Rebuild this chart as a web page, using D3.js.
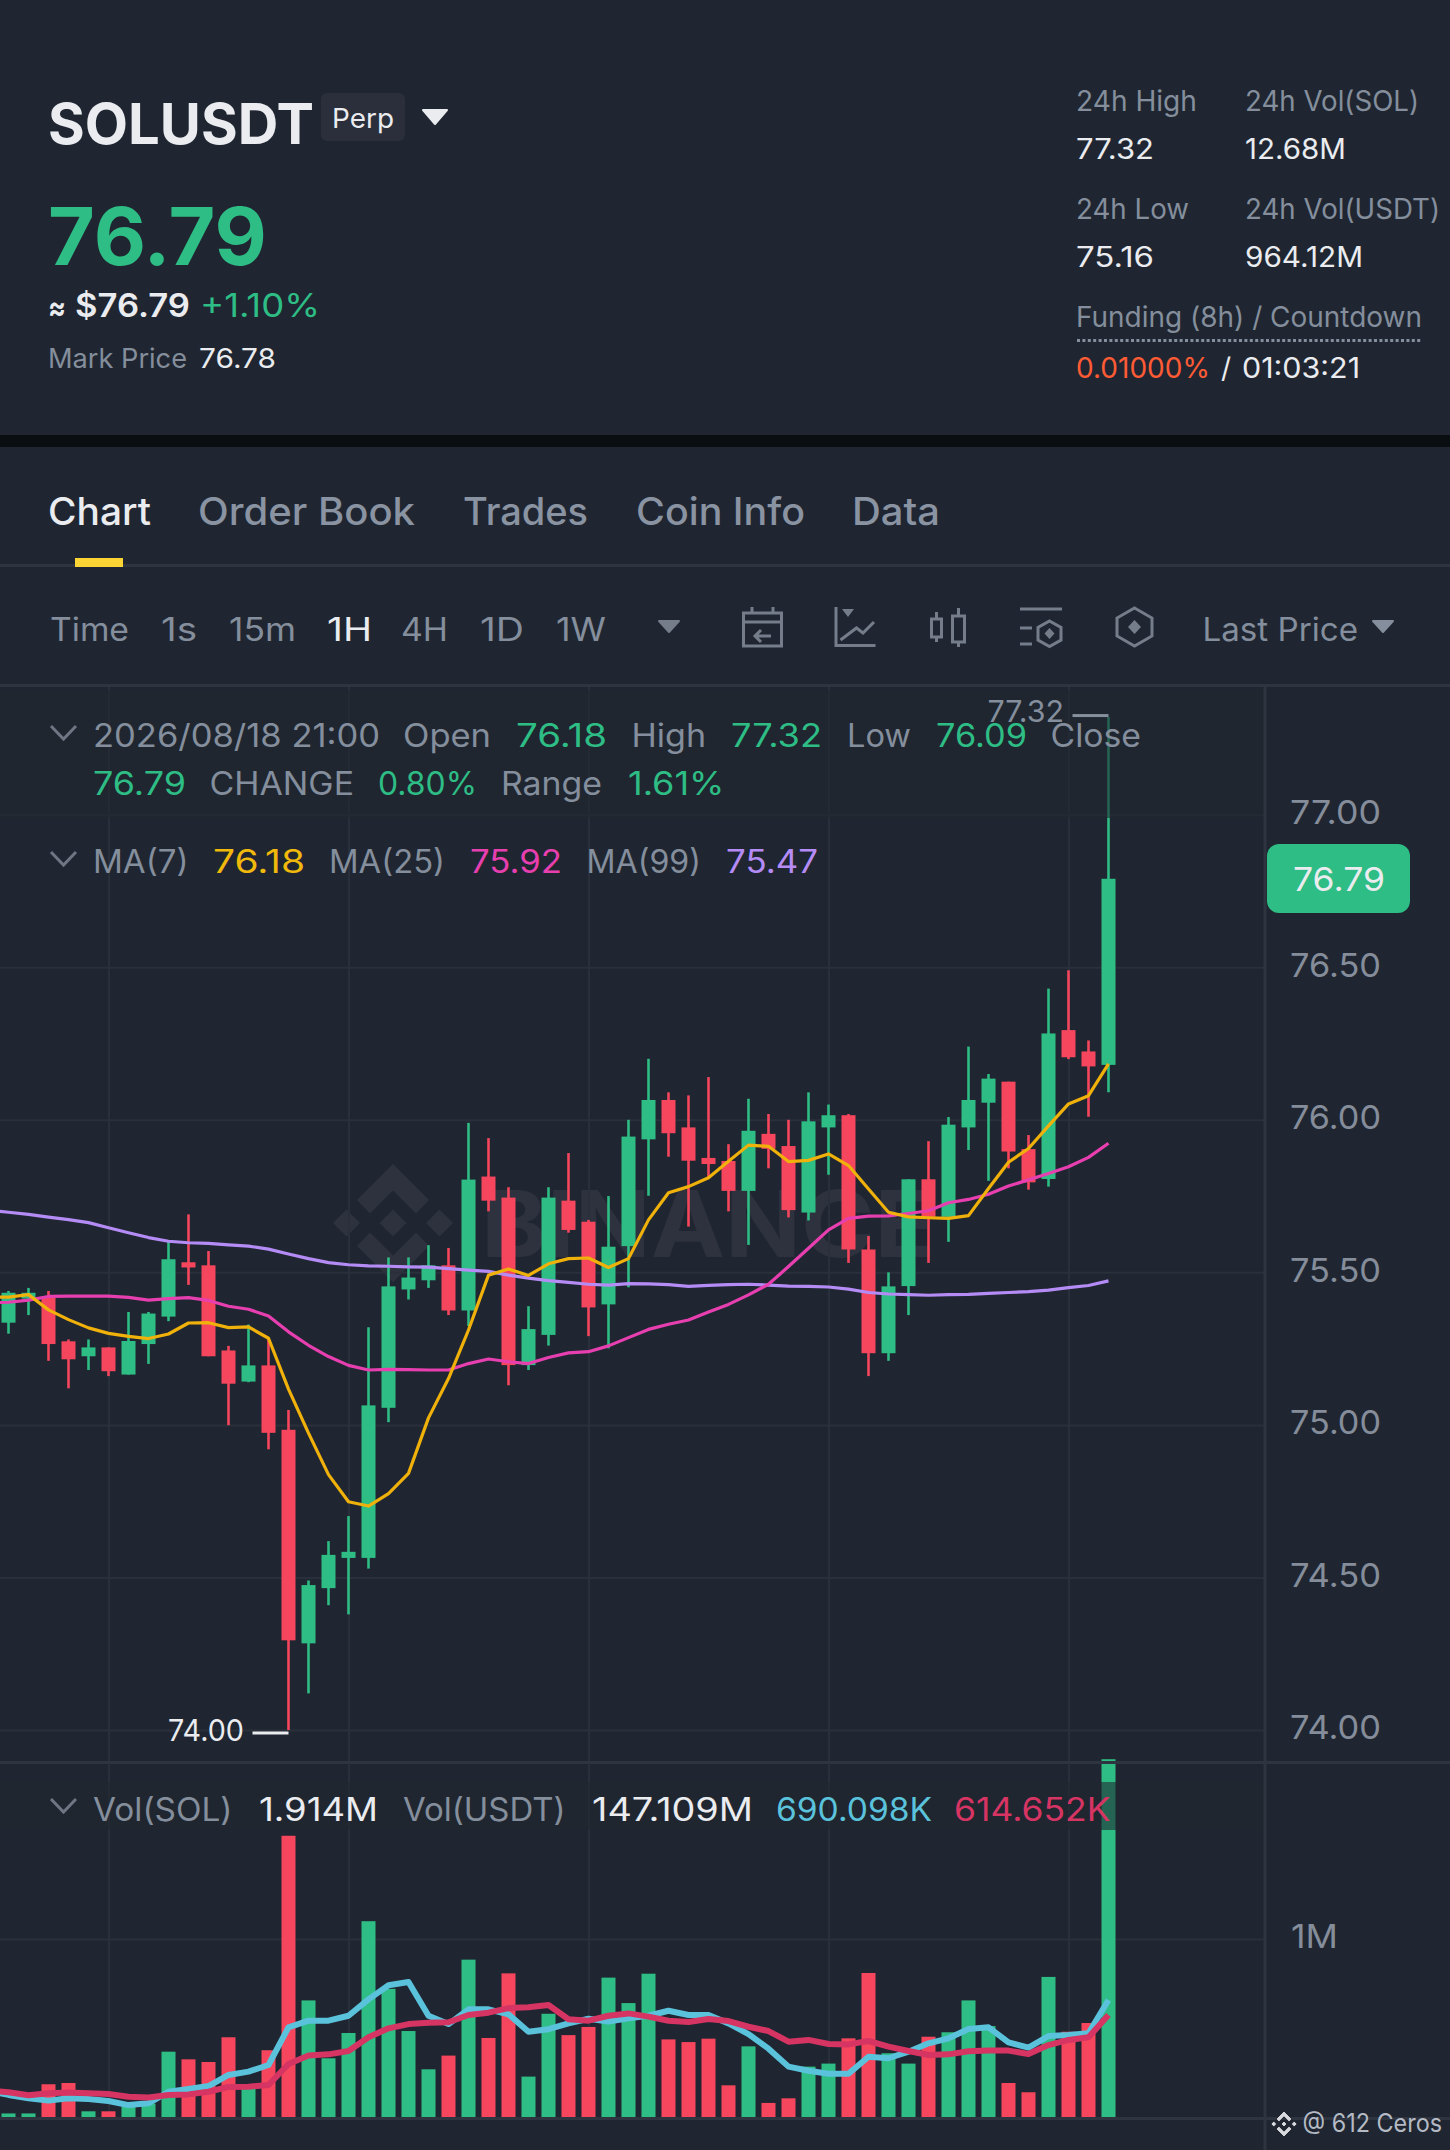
<!DOCTYPE html>
<html>
<head>
<meta charset="utf-8">
<title>SOLUSDT Perp</title>
<script src="https://cdn.jsdelivr.net/npm/d3@7"></script>
<style>
  html, body { margin: 0; padding: 0; background: #1f2631; }
  svg { display: block; }
  text { font-family: Inter, "Noto Sans", sans-serif; }
</style>
</head>
<body>
<div id="chart"></div>
<script>
// candles, left to right, 1H
var opens = [75.335,75.414,75.418,75.274,75.225,75.254,75.165,75.265,75.355,75.533,75.523,75.244,75.142,75.195,74.984,74.284,74.465,74.564,74.564,75.056,75.444,75.474,75.523,75.375,75.814,75.745,75.196,75.295,75.735,75.666,75.395,75.586,75.936,76.065,75.975,75.875,75.865,75.767,75.954,75.914,75.696,75.975,76.015,75.575,75.235,75.455,75.805,75.682,75.975,76.056,76.125,75.904,75.806,76.294,76.224,76.18];
var highs = [75.439,75.449,75.439,75.28,75.28,75.254,75.37,75.37,75.602,75.69,75.57,75.259,75.329,75.286,75.049,74.49,74.619,74.701,75.32,75.549,75.549,75.589,75.58,75.99,75.94,75.779,75.389,75.779,75.891,75.672,75.75,76,76.2,76.09,76.08,76.14,75.92,76.069,76.019,76,76.09,76.05,76.019,75.619,75.5,75.805,75.93,76.009,76.24,76.15,76.125,75.95,76.43,76.49,76.26,77.32];
var lows = [75.299,75.36,75.21,75.12,75.18,75.16,75.165,75.2,75.34,75.459,75.225,74.999,75.14,74.92,74,74.12,74.409,74.379,74.529,75.009,75.411,75.449,75.36,75.324,75.7,75.13,75.18,75.26,75.63,75.291,75.251,75.451,75.751,75.879,75.65,75.808,75.7,75.59,75.841,75.68,75.67,75.82,75.531,75.16,75.21,75.36,75.531,75.6,75.901,75.8,75.841,75.771,75.781,76.199,76.01,76.09];
var closes = [75.433,75.433,75.265,75.215,75.254,75.176,75.275,75.365,75.543,75.516,75.225,75.135,75.195,74.974,74.294,74.475,74.574,74.584,75.064,75.454,75.483,75.523,75.375,75.804,75.735,75.196,75.314,75.745,75.639,75.385,75.584,75.945,76.065,75.956,75.866,75.855,75.767,75.964,75.905,75.704,75.995,76.015,75.575,75.235,75.454,75.805,75.682,75.984,76.065,76.135,75.896,75.795,76.283,76.205,76.175,76.79];

var volumes = [0.02,0.02,0.184,0.191,0.032,0.032,0.06,0.075,0.367,0.324,0.309,0.448,0.17,0.375,1.58,0.655,0.33,0.472,1.1,0.72,0.483,0.268,0.345,0.884,0.444,0.807,0.227,0.58,0.46,0.506,0.783,0.64,0.805,0.436,0.421,0.44,0.178,0.397,0.079,0.105,0.283,0.3,0.442,0.809,0.358,0.3,0.451,0.476,0.655,0.511,0.191,0.139,0.787,0.479,0.528,2.01];

// the moving averages start one candle left of the picture, so they run off the edge
var ma7 = [75.419,75.419,75.427,75.377,75.345,75.318,75.3,75.29,75.283,75.298,75.334,75.335,75.319,75.321,75.284,75.117,74.973,74.837,74.748,74.734,74.775,74.841,75.023,75.152,75.311,75.491,75.511,75.49,75.528,75.545,75.547,75.516,75.545,75.672,75.761,75.781,75.81,75.864,75.917,75.913,75.863,75.867,75.888,75.85,75.773,75.697,75.682,75.679,75.677,75.686,75.775,75.861,75.906,75.98,76.052,76.079,76.183];
var ma25 = [75.4,75.402,75.409,75.421,75.422,75.422,75.422,75.418,75.409,75.414,75.417,75.408,75.389,75.379,75.357,75.305,75.261,75.224,75.195,75.18,75.182,75.181,75.18,75.18,75.201,75.216,75.207,75.201,75.221,75.236,75.24,75.259,75.286,75.313,75.33,75.344,75.37,75.395,75.426,75.461,75.519,75.579,75.639,75.677,75.684,75.685,75.693,75.702,75.728,75.739,75.756,75.783,75.803,75.824,75.846,75.877,75.923];
var ma99 = [75.703,75.697,75.69,75.681,75.673,75.663,75.646,75.63,75.614,75.602,75.597,75.595,75.59,75.586,75.576,75.56,75.545,75.532,75.525,75.521,75.52,75.518,75.517,75.512,75.507,75.503,75.491,75.481,75.473,75.467,75.461,75.458,75.463,75.462,75.46,75.454,75.457,75.46,75.461,75.458,75.455,75.454,75.452,75.445,75.434,75.429,75.427,75.425,75.427,75.428,75.431,75.434,75.437,75.442,75.45,75.457,75.472];
var volMa5 = [0.148,0.124,0.105,0.092,0.105,0.101,0.09,0.067,0.077,0.142,0.157,0.174,0.236,0.255,0.292,0.504,0.541,0.541,0.569,0.661,0.74,0.758,0.569,0.522,0.605,0.605,0.577,0.479,0.493,0.526,0.552,0.536,0.554,0.569,0.597,0.573,0.573,0.526,0.466,0.384,0.283,0.26,0.243,0.243,0.339,0.33,0.367,0.414,0.442,0.494,0.504,0.419,0.39,0.455,0.461,0.47,0.657];
var volMa10 = [0.15,0.139,0.122,0.133,0.137,0.133,0.129,0.114,0.109,0.124,0.127,0.142,0.169,0.17,0.18,0.298,0.345,0.352,0.371,0.448,0.498,0.522,0.53,0.532,0.573,0.586,0.612,0.616,0.629,0.549,0.541,0.569,0.582,0.564,0.541,0.534,0.551,0.539,0.507,0.483,0.423,0.433,0.41,0.408,0.427,0.395,0.371,0.348,0.352,0.369,0.373,0.373,0.354,0.404,0.433,0.448,0.573];

var priceTicks = [74, 74.5, 75, 75.5, 76, 76.5, 77];
var volTicks = [1];
var timeGridCandles = [5, 17, 29, 41, 53];

var bg = "#1f2631", green = "#2ebd85", red = "#f6465d", grey = "#848e9c", white = "#eaecef";
var lineCol = "#2e3440", gridCol = "#2a303b", iconCol = "#757d8b";

var svg = d3.select("#chart").append("svg")
    .attr("width", 1450)
    .attr("height", 2150);

svg.append("rect").attr("width", 1450).attr("height", 2150).attr("fill", bg);

// scales
var xScale = d3.scaleLinear().domain([0, 55]).range([8.5, 1108.5]);
var yScale = d3.scaleLinear().domain([74, 77]).range([1730, 814.7]);
var volScale = d3.scaleLinear().domain([0, 1]).range([2117, 1939]);

var candles = closes.map(function(c, i) {
    return {i: i, o: opens[i], h: highs[i], l: lows[i], c: c, v: volumes[i]};
});

function txt(str, x, y, size, fill, width, weight, parent) {
    var t = (parent || svg).append("text")
        .attr("x", x - 1)
        .attr("y", y)
        .attr("font-size", size)
        .attr("font-weight", weight || 400)
        .attr("fill", fill)
        .text(str);
    if (width) {
        t.attr("textLength", width + 2).attr("lengthAdjust", "spacingAndGlyphs");
    }
    return t;
}

function tri(x0, x1, y0, y1, fill) {
    svg.append("path")
        .attr("d", `M${x0 + 1},${y0 + 1}H${x1 - 1}L${(x0 + x1) / 2},${y1 - 1}Z`)
        .attr("fill", fill)
        .attr("stroke", fill)
        .attr("stroke-width", 2)
        .attr("stroke-linejoin", "round");
}

function chevron(y) {
    svg.append("path")
        .attr("d", `M51,${y}L63.5,${y + 13}L76,${y}`)
        .attr("fill", "none")
        .attr("stroke", "#6e7583")
        .attr("stroke-width", 3);
}

// ---------- header ----------
txt("SOLUSDT", 49, 144, 56, white, 264, 700);
svg.append("rect").attr("x", 321).attr("y", 93).attr("width", 84).attr("height", 48).attr("rx", 6).attr("fill", "#2a2f3b");
txt("Perp", 333, 128, 27, white, 60);
tri(422, 448, 109, 125, white);

txt("76.79", 49, 265, 80, green, 217, 700);
txt("≈", 49, 318, 30, white, 16, 700);
txt("$76.79", 76, 317, 33, white, 113, 600);
txt("+1.10%", 201, 317, 33, green, 118);
txt("Mark Price", 49, 368, 27, grey, 137);
txt("76.78", 200, 368, 27, white, 75);

txt("24h High", 1077, 111, 28, grey, 119);
txt("24h Vol(SOL)", 1246, 111, 28, grey, 172);
txt("77.32", 1077, 159, 28, white, 76);
txt("12.68M", 1246, 159, 28, white, 99);
txt("24h Low", 1077, 219, 28, grey, 111);
txt("24h Vol(USDT)", 1246, 219, 28, grey, 193);
txt("75.16", 1077, 267, 28, white, 76);
txt("964.12M", 1246, 267, 28, white, 116);
txt("Funding (8h) / Countdown", 1077, 327, 28, grey, 344);
svg.append("line").attr("x1", 1077).attr("x2", 1421).attr("y1", 340.5).attr("y2", 340.5)
    .attr("stroke", grey).attr("stroke-width", 3).attr("stroke-dasharray", "3 2.4");
txt("0.01000%", 1077, 378, 28, "#ff5b35", 132);
txt("/", 1222, 378, 28, white);
txt("01:03:21", 1243, 378, 28, white, 116);

svg.append("rect").attr("x", 0).attr("y", 435).attr("width", 1450).attr("height", 12).attr("fill", "#0b0e11");

// ---------- tabs ----------
txt("Chart", 49, 525, 38, white, 101, 500);
txt("Order Book", 199, 525, 38, "#8a93a2", 215, 500);
txt("Trades", 464, 525, 38, "#8a93a2", 123, 500);
txt("Coin Info", 637, 525, 38, "#8a93a2", 167, 500);
txt("Data", 853, 525, 38, "#8a93a2", 86, 500);
svg.append("rect").attr("x", 0).attr("y", 564).attr("width", 1450).attr("height", 3).attr("fill", lineCol);
svg.append("rect").attr("x", 75).attr("y", 558).attr("width", 48).attr("height", 9).attr("fill", "#fcd535");

// ---------- interval row ----------
txt("Time", 51, 641, 32, grey, 77);
txt("1s", 162, 641, 32, grey, 34);
txt("15m", 230, 641, 32, grey, 65);
txt("1H", 328, 641, 32, white, 43);
txt("4H", 402, 641, 32, grey, 45);
txt("1D", 481, 641, 32, grey, 42);
txt("1W", 557, 641, 32, grey, 48);
tri(658, 680, 620, 633, iconCol);
txt("Last Price", 1203.5, 641, 32, grey, 153.5);
tri(1372, 1394, 620, 633, grey);

var icons = svg.append("g")
    .attr("fill", "none")
    .attr("stroke", iconCol)
    .attr("stroke-width", 3);
// calendar
icons.append("path").attr("d", "M743.5,613H781.5V646H743.5ZM743.5,622H781.5M752,607V613M773,607V613M771,636H755M761,630L755,636L761,642");
// line chart
icons.append("path").attr("d", "M836,607V645.5H875.5M840.5,640L856.5,628L863,633L874,622");
icons.append("path").attr("d", "M842,609H854L848,617Z").attr("fill", iconCol).attr("stroke", "none");
// candles
icons.append("path").attr("d", "M931.5,619H941.5V637H931.5ZM936.5,612V619M936.5,637V642M952.5,616H964.5V642H952.5ZM958.5,608V616M958.5,642V647");
// settings
icons.append("path").attr("d", "M1020,609H1062M1020,628H1032M1020,644H1032M1049.5,621L1061,627.5V640L1049.5,646.5L1038,640V627.5Z");
icons.append("path").attr("d", "M1049.5,628L1054.5,633.5L1049.5,639L1044.5,633.5Z").attr("fill", iconCol).attr("stroke", "none");
// margin hexagon
icons.append("path").attr("d", "M1134.5,608L1152,618V636L1134.5,646L1117,636V618Z");
icons.append("path").attr("d", "M1134.5,620L1141,627L1134.5,634L1128,627Z").attr("fill", iconCol).attr("stroke", "none");

// ---------- watermark ----------
function logo(cx, cy, k, fill, parent) {
    var g = parent.append("g")
        .attr("transform", `translate(${cx},${cy}) scale(${k})`)
        .attr("fill", fill);
    g.append("path").attr("d", "M0,-59L36,-23L23,-9.5L0,-32.5L-23,-9.5L-36,-23Z");
    g.append("path").attr("d", "M0,59L36,23L23,9.5L0,32.5L-23,9.5L-36,23Z");
    g.append("path").attr("d", "M0,-13.5L13.5,0L0,13.5L-13.5,0Z");
    g.append("path").attr("d", "M-46.5,-13.5L-33,0L-46.5,13.5L-60,0Z");
    g.append("path").attr("d", "M46.5,-13.5L60,0L46.5,13.5L33,0Z");
    return g;
}
logo(393, 1223, 1, "#2e323e", svg);
txt("BINANCE", 482, 1257, 92, "#2e323e", 452, 700);

// ---------- grid and axes ----------
var grid = svg.append("g").attr("class", "grid");

var priceAxis = d3.axisRight(yScale)
    .tickValues(priceTicks)
    .tickFormat(d3.format(".2f"))
    .tickSize(-1265)
    .tickPadding(25);
var volAxis = d3.axisRight(volScale)
    .tickValues(volTicks)
    .tickFormat(function(d) { return d + "M"; })
    .tickSize(-1265)
    .tickPadding(26);
var timeAxis = d3.axisBottom(xScale)
    .tickValues(timeGridCandles)
    .tickFormat("")
    .tickSize(-(2117 - 687));

var gPrice = grid.append("g").attr("transform", "translate(1265,0)").call(priceAxis);
var gVol = grid.append("g").attr("transform", "translate(1265,0)").call(volAxis);
var gTime = grid.append("g").attr("transform", "translate(0,2117)").call(timeAxis);

gTime.selectAll(".tick text").remove();
[gPrice, gVol, gTime].forEach(function(g) {
    g.select(".domain").remove();
    g.selectAll(".tick line").attr("stroke", gridCol).attr("stroke-width", 2);
    g.selectAll(".tick text")
        .attr("fill", "#858d9b")
        .attr("font-size", 33)
        .attr("font-family", "Inter, sans-serif")
        .attr("dy", "0.27em")
        .attr("lengthAdjust", "spacingAndGlyphs");
});
gPrice.selectAll(".tick text").attr("textLength", 91);
gVol.selectAll(".tick text").attr("textLength", 47);

// ---------- candles ----------
var marks = svg.append("g");
var upDown = function(d) { return d.c >= d.o ? green : red; };

marks.selectAll(".wick")
    .data(candles)
    .enter()
    .append("line")
    .attr("class", "wick")
    .attr("x1", function(d) { return xScale(d.i); })
    .attr("x2", function(d) { return xScale(d.i); })
    .attr("y1", function(d) { return yScale(d.h); })
    .attr("y2", function(d) { return yScale(d.l); })
    .attr("stroke", upDown)
    .attr("stroke-width", 2.6);

marks.selectAll(".body")
    .data(candles)
    .enter()
    .append("rect")
    .attr("class", "body")
    .attr("x", function(d) { return xScale(d.i) - 7; })
    .attr("width", 14)
    .attr("y", function(d) { return yScale(Math.max(d.o, d.c)); })
    .attr("height", function(d) { return Math.abs(yScale(d.o) - yScale(d.c)); })
    .attr("fill", upDown);

// volume bars
marks.selectAll(".vol")
    .data(candles)
    .enter()
    .append("rect")
    .attr("class", "vol")
    .attr("x", function(d) { return xScale(d.i) - 7; })
    .attr("width", 14)
    .attr("y", function(d) { return volScale(d.v); })
    .attr("height", function(d) { return volScale(0) - volScale(d.v); })
    .attr("fill", upDown);

// ---------- moving averages ----------
function drawLine(values, scale, color, width) {
    var line = d3.line()
        .x(function(d, i) { return xScale(i - 1); })
        .y(function(d) { return scale(d); });
    marks.append("path")
        .attr("d", line(values))
        .attr("fill", "none")
        .attr("stroke", color)
        .attr("stroke-width", width)
        .attr("stroke-linejoin", "round");
}
drawLine(ma99, yScale, "#b58cf6", 3.2);
drawLine(ma25, yScale, "#e83fb0", 3.2);
drawLine(ma7, yScale, "#f0b10b", 3.2);
drawLine(volMa5, volScale, "#5bc2dc", 6);
drawLine(volMa10, volScale, "#d63463", 6);

// legend backing dims what runs under the first legend rows
svg.append("rect").attr("x", 0).attr("y", 690).attr("width", 1263.5).attr("height", 128).attr("fill", bg).attr("opacity", 0.6);
svg.append("rect").attr("x", 0).attr("y", 1782).attr("width", 1263.5).attr("height", 48).attr("fill", bg).attr("opacity", 0.6);

// panel lines
svg.append("rect").attr("x", 0).attr("y", 684).attr("width", 1450).attr("height", 3).attr("fill", lineCol);
svg.append("rect").attr("x", 0).attr("y", 1761).attr("width", 1450).attr("height", 3).attr("fill", lineCol);
svg.append("rect").attr("x", 0).attr("y", 2117).attr("width", 1450).attr("height", 3).attr("fill", lineCol);
svg.append("rect").attr("x", 1263.5).attr("y", 687).attr("width", 3).attr("height", 1463).attr("fill", lineCol);

// ---------- legends ----------
chevron(726);
txt("2026/08/18 21:00", 94, 747, 32, grey, 285);
txt("Open", 404, 747, 32, grey, 86);
txt("76.18", 517, 747, 32, green, 89);
txt("High", 632.5, 747, 32, grey, 72.5);
txt("77.32", 732, 747, 32, green, 89);
txt("Low", 848, 747, 32, grey, 62);
txt("76.09", 937, 747, 32, green, 89);
txt("Close", 1051.5, 747, 32, grey, 88.5);

txt("76.79", 94, 795, 32, green, 91);
txt("CHANGE", 210.5, 795, 32, grey, 142.5);
txt("0.80%", 379, 795, 32, green, 97);
txt("Range", 502, 795, 32, grey, 99);
txt("1.61%", 629, 795, 32, green, 94.5);

chevron(852);
txt("MA(7)", 94, 873, 32, grey, 93.5);
txt("76.18", 214, 873, 32, "#f0b90b", 90);
txt("MA(25)", 330, 873, 32, grey, 114);
txt("75.92", 471, 873, 32, "#e83fb0", 90);
txt("MA(99)", 587.5, 873, 32, grey, 112.5);
txt("75.47", 727, 873, 32, "#b58cf6", 90);

chevron(1799);
txt("Vol(SOL)", 94, 1821, 32, grey, 137.5);
txt("1.914M", 260, 1821, 32, white, 117);
txt("Vol(USDT)", 404, 1821, 32, grey, 160.5);
txt("147.109M", 593, 1821, 32, white, 159);
txt("690.098K", 777, 1821, 32, "#5bc2dc", 154);
txt("614.652K", 955, 1821, 32, "#d63463", 154.5);

// high and low markers
txt("77.32", 988.5, 722, 30, grey, 74.5);
svg.append("rect").attr("x", xScale(55) - 36).attr("y", yScale(77.32) - 3).attr("width", 36).attr("height", 3).attr("fill", grey);
txt("74.00", 169, 1741, 30, white, 74);
svg.append("rect").attr("x", xScale(14) - 36).attr("y", yScale(74) + 1.5).attr("width", 36).attr("height", 3).attr("fill", white);

// last price badge
svg.append("rect").attr("x", 1267).attr("y", 844).attr("width", 143).attr("height", 69).attr("rx", 12).attr("fill", green);
txt(closes[55].toFixed(2), 1294, 891, 33, white, 90);

// poster watermark, bottom right
logo(1284, 2124, 0.22, "#d6d9de", svg).attr("stroke", "#11151b").attr("stroke-width", 4);
txt("@ 612 Ceros", 1303.5, 2132, 25, "#b4bac4", 137.5);
</script>
</body>
</html>
